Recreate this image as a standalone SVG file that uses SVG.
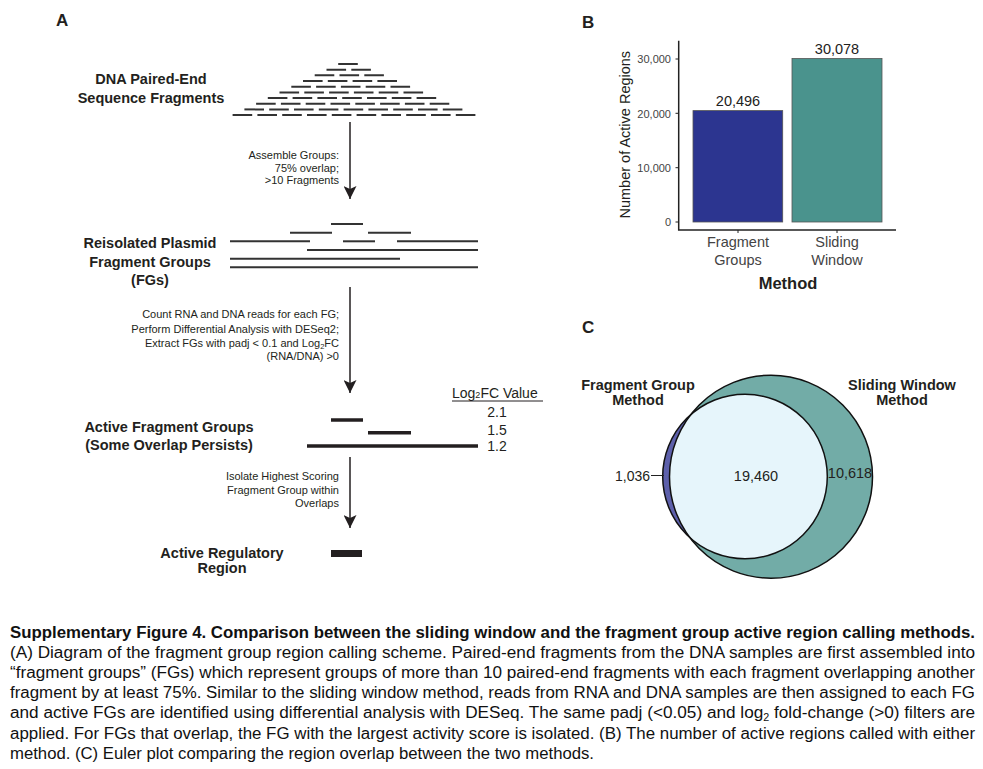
<svg xmlns="http://www.w3.org/2000/svg" width="983" height="769" viewBox="0 0 983 769">
<style>
text{font-family:"Liberation Sans",Arial,sans-serif;fill:#231f20}
.lbl{font-size:14.5px;font-weight:bold;text-anchor:middle}
.sm{font-size:11px;text-anchor:end}
.val{font-size:14px;text-anchor:middle}
.let{font-size:17px;font-weight:bold}
.frag{stroke:#333;stroke-width:2;stroke-dasharray:19.6 5.2}
.fg{stroke:#333;stroke-width:2}
.act{stroke:#231f20;stroke-width:3.5}
.arrow{stroke:#231f20;stroke-width:1.5;fill:none;marker-end:url(#ah)}
.tick{font-size:11px;fill:#444;text-anchor:end}
.xl{font-size:14.5px;fill:#444;text-anchor:middle}
.cap{font-family:"Liberation Sans Narrow","Liberation Sans",Arial,sans-serif;font-size:16px;fill:#111}
.vt{font-size:14.5px;text-anchor:middle;fill:#222}
</style>
<defs>
<marker id="ah" markerUnits="userSpaceOnUse" viewBox="0 0 14 13" markerWidth="14" markerHeight="13" refX="13" refY="6.5" orient="auto">
<path d="M0,0 L13,6.5 L0,13 L3,6.5 z" fill="#231f20"/>
</marker>
<clipPath id="swclip"><circle cx="771" cy="476.7" r="101.5"/></clipPath>
</defs>
<rect width="983" height="769" fill="#fff"/>

<!-- Panel A -->
<text class="let" x="56" y="26">A</text>

<g id="dna-fragments">
<line class="frag" x1="338.2" y1="64" x2="357.8" y2="64"/>
<line class="frag" x1="326.5" y1="69.7" x2="370.9" y2="69.7"/>
<line class="frag" x1="314.7" y1="75.3" x2="383.9" y2="75.3"/>
<line class="frag" x1="303" y1="81" x2="397" y2="81"/>
<line class="frag" x1="291.3" y1="86.7" x2="410.1" y2="86.7"/>
<line class="frag" x1="279.5" y1="92.4" x2="423.1" y2="92.4"/>
<line class="frag" x1="267.8" y1="98" x2="436.2" y2="98"/>
<line class="frag" x1="256.1" y1="103.7" x2="449.3" y2="103.7"/>
<line class="frag" x1="244.4" y1="109.4" x2="462.4" y2="109.4"/>
<line class="frag" x1="232.6" y1="115" x2="475.4" y2="115"/>
<text class="lbl" x="151" y="84">DNA Paired-End</text>
<text class="lbl" x="151" y="103">Sequence Fragments</text>
</g>

<g id="plasmid-fgs">
<line class="fg" x1="331" y1="224" x2="363" y2="224"/>
<line class="fg" x1="290" y1="232.7" x2="332" y2="232.7"/>
<line class="fg" x1="368" y1="232.7" x2="411" y2="232.7"/>
<line class="fg" x1="230" y1="241.3" x2="310" y2="241.3"/>
<line class="fg" x1="343" y1="241.3" x2="375" y2="241.3"/>
<line class="fg" x1="397" y1="241.3" x2="478" y2="241.3"/>
<line class="fg" x1="307" y1="250" x2="478" y2="250"/>
<line class="fg" x1="230" y1="258.7" x2="400" y2="258.7"/>
<line class="fg" x1="230" y1="267.3" x2="478" y2="267.3"/>
<text class="lbl" x="150" y="248">Reisolated Plasmid</text>
<text class="lbl" x="150" y="267">Fragment Groups</text>
<text class="lbl" x="150" y="285">(FGs)</text>
</g>

<g id="active-fgs">
<line class="act" x1="331" y1="420" x2="363" y2="420"/>
<line class="act" x1="368" y1="432.7" x2="411" y2="432.7"/>
<line class="act" x1="307" y1="446" x2="478" y2="446"/>
<text class="lbl" x="169" y="432">Active Fragment Groups</text>
<text class="lbl" x="169" y="450">(Some Overlap Persists)</text>
<text x="452" y="398" font-size="14px">Log<tspan font-size="9px">2</tspan>FC Value</text>
<line x1="452" y1="401" x2="543" y2="401" stroke="#231f20" stroke-width="1"/>
<text class="val" x="497" y="417">2.1</text>
<text class="val" x="497" y="435">1.5</text>
<text class="val" x="497" y="451">1.2</text>
</g>

<g id="active-region">
<rect x="331" y="550" width="31" height="7" fill="#231f20"/>
<text class="lbl" x="222" y="558">Active Regulatory</text>
<text class="lbl" x="222" y="573">Region</text>
</g>

<g id="connectors">
<line class="arrow" x1="350" y1="122" x2="350" y2="199"/>
<line class="arrow" x1="350" y1="287" x2="350" y2="393"/>
<line class="arrow" x1="350" y1="457" x2="350" y2="528"/>
</g>

<g id="connector-labels">
<text class="sm" x="339" y="159">Assemble Groups:</text>
<text class="sm" x="339" y="171.5">75% overlap;</text>
<text class="sm" x="339" y="184">&gt;10 Fragments</text>
<text class="sm" x="339" y="318">Count RNA and DNA reads for each FG;</text>
<text class="sm" x="339" y="332.5">Perform Differential Analysis with DESeq2;</text>
<text class="sm" x="339" y="347">Extract FGs with padj &lt; 0.1 and Log<tspan font-size="7.5px" dy="2">2</tspan><tspan dy="-2">FC</tspan></text>
<text class="sm" x="339" y="360">(RNA/DNA) &gt;0</text>
<text class="sm" x="339" y="480">Isolate Highest Scoring</text>
<text class="sm" x="339" y="493.5">Fragment Group within</text>
<text class="sm" x="339" y="507">Overlaps</text>
</g>

<!-- Panel B -->
<g id="panel-b">
<text class="let" x="582" y="28">B</text>
<rect x="693" y="110.6" width="89.7" height="111.4" fill="#2c3590" stroke="#555" stroke-width="0.8"/>
<rect x="792" y="58.5" width="90" height="163.5" fill="#4a938d" stroke="#555" stroke-width="0.8"/>
<path d="M678.7,40.7 V230 H896" fill="none" stroke="#222" stroke-width="1.5"/>
<path d="M675.5,59 h3.2 M675.5,113.3 h3.2 M675.5,167.7 h3.2 M675.5,222 h3.2 M738,230 v3 M837,230 v3" stroke="#222" stroke-width="1"/>
<text class="tick" x="671" y="63">30,000</text>
<text class="tick" x="671" y="117.5">20,000</text>
<text class="tick" x="671" y="172">10,000</text>
<text class="tick" x="671" y="226">0</text>
<text class="vt" x="738" y="106" font-size="15px">20,496</text>
<text class="vt" x="837" y="54" font-size="15px">30,078</text>
<text class="xl" x="738" y="247">Fragment</text>
<text class="xl" x="738" y="265">Groups</text>
<text class="xl" x="837" y="247">Sliding</text>
<text class="xl" x="837" y="265">Window</text>
<text x="788" y="289" font-size="16.5px" font-weight="bold" text-anchor="middle" fill="#222">Method</text>
<text transform="translate(630,134.7) rotate(-90)" x="0" y="0" font-size="14.5px" text-anchor="middle" fill="#222">Number of Active Regions</text>
</g>

<!-- Panel C -->
<g id="panel-c">
<text class="let" x="582" y="333">C</text>
<circle cx="771" cy="476.7" r="101.5" fill="#72aca7"/>
<circle cx="745" cy="476.5" r="82.3" fill="#5d60ab"/>
<circle cx="745" cy="476.5" r="82.3" fill="#e6f5fb" clip-path="url(#swclip)"/>
<circle cx="771" cy="476.7" r="101.5" fill="none" stroke="#111" stroke-width="1.5"/>
<circle cx="745" cy="476.5" r="82.3" fill="none" stroke="#111" stroke-width="1.5"/>
<text class="lbl" x="638" y="390">Fragment Group</text>
<text class="lbl" x="638" y="404.5">Method</text>
<text class="lbl" x="902" y="390">Sliding Window</text>
<text class="lbl" x="902" y="404.5">Method</text>
<line x1="651" y1="475.5" x2="664" y2="475.5" stroke="#222" stroke-width="1"/>
<text x="650" y="480.5" font-size="14px" text-anchor="end" fill="#222">1,036</text>
<text x="756" y="480.5" font-size="14.5px" text-anchor="middle" fill="#222">19,460</text>
<text x="850" y="478" font-size="14.5px" text-anchor="middle" fill="#222">10,618</text>
</g>

<!-- Caption -->
<g id="caption">
<text class="cap" x="10" y="637.5" font-weight="bold" textLength="965" lengthAdjust="spacingAndGlyphs">Supplementary Figure 4. Comparison between the sliding window and the fragment group active region calling methods.</text>
<text class="cap" x="10" y="657.5" textLength="965" lengthAdjust="spacingAndGlyphs">(A) Diagram of the fragment group region calling scheme. Paired-end fragments from the DNA samples are first assembled into</text>
<text class="cap" x="10" y="678" textLength="965" lengthAdjust="spacingAndGlyphs">“fragment groups”  (FGs) which represent groups of more than 10 paired-end fragments with each fragment overlapping another</text>
<text class="cap" x="10" y="698" textLength="965" lengthAdjust="spacingAndGlyphs">fragment by at least 75%. Similar to the sliding window method, reads from RNA and DNA samples are then assigned to each FG</text>
<text class="cap" x="10" y="718" textLength="965" lengthAdjust="spacingAndGlyphs">and active FGs are identified using differential analysis with DESeq. The same padj (&lt;0.05) and log<tspan font-size="10px" dy="3">2</tspan><tspan dy="-3"> fold-change (&gt;0) filters are</tspan></text>
<text class="cap" x="10" y="738.5" textLength="965" lengthAdjust="spacingAndGlyphs">applied. For FGs that overlap, the FG with the largest activity score is isolated.  (B) The number of active regions called with either</text>
<text class="cap" x="10" y="758.5" textLength="584" lengthAdjust="spacingAndGlyphs">method. (C) Euler plot comparing the region overlap between the two methods.</text>
</g>
</svg>
